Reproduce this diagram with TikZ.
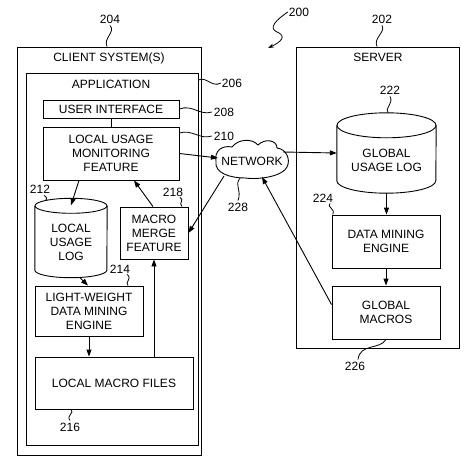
\documentclass[tikz,border=0pt]{standalone}
\usepackage{fontspec}
\setmainfont{Liberation Sans}
\usetikzlibrary{arrows.meta,calc}
\begin{document}
\begin{tikzpicture}[x=1pt,y=-1pt,
  every node/.style={font=\fontsize{12}{14}\selectfont},
  box/.style={draw,line width=0.9pt,inner sep=0pt,align=center},
  plain/.style={inner sep=0pt,align=center},
  lbl/.style={inner sep=0pt},
  conn/.style={line width=0.9pt,-{Triangle[length=7pt,width=5pt]}},
  lead/.style={line width=0.8pt},
  cylline/.style={line width=0.9pt}]
\useasboundingbox (0,0) rectangle (474,471);
% containers
\node[box,minimum width=184pt,minimum height=408pt] (client) at (109,251) {};
\node[box,minimum width=172pt,minimum height=372pt] (app) at (112,259) {};
\node[plain] (clienttxt) at (109,58) {CLIENT SYSTEM(S)};
\node[plain] (apptxt) at (111,84) {APPLICATION};
\node[box,minimum width=163pt,minimum height=301pt] (server) at (377.5,197.5) {};
\node[plain] (servertxt) at (378,57) {SERVER};
% client boxes
\node[box,minimum width=136pt,minimum height=18pt] (ui) at (111,109) {USER INTERFACE};
\node[box,minimum width=136pt,minimum height=53pt] (lumf) at (111,153.5) {LOCAL USAGE\\MONITORING\\FEATURE};
\node[plain,minimum width=72pt,minimum height=79pt] (lul) at (71,238) {};
\node[plain] (lultxt) at (71,242) {LOCAL\\USAGE\\LOG};
\node[box,minimum width=68pt,minimum height=52pt] (mmf) at (154,233) {MACRO\\MERGE\\FEATURE};
\node[box,minimum width=108pt,minimum height=50pt] (lw) at (89,311) {LIGHT-WEIGHT\\DATA MINING\\ENGINE};
\node[box,minimum width=158pt,minimum height=52pt] (lmf) at (114,383) {LOCAL MACRO FILES};
% server boxes
\node[plain,minimum width=99pt,minimum height=80pt] (gul) at (386.5,153) {};
\node[plain] (gultxt) at (386.5,160) {GLOBAL\\USAGE LOG};
\node[box,minimum width=108pt,minimum height=53pt] (dme) at (386,241.5) {DATA MINING\\ENGINE};
\node[box,minimum width=108pt,minimum height=53pt] (gm) at (386,312.5) {GLOBAL\\MACROS};
% network
\node[plain] (net) at (252,161) {NETWORK};
\draw[line width=0.9pt] (216,161) .. controls (214,151) and (222,145) .. (232,147)
  .. controls (238,139) and (252,138) .. (258,145)
  .. controls (265,138) and (277,140) .. (277,148)
  .. controls (286,149) and (291,159) .. (287,167)
  .. controls (283,176) and (260,180) .. (245,178)
  .. controls (230,178) and (214,173) .. (216,161);
% cylinders
\draw[cylline] ([yshift=-7.5pt]lul.north) ellipse [x radius=36pt, y radius=7.5pt];
\draw[cylline] ([yshift=-7.5pt]lul.north west) -- ([yshift=7.5pt]lul.south west)
  arc[start angle=180,end angle=360,x radius=36pt,y radius=7.5pt] -- ([yshift=-7.5pt]lul.north east);
\draw[cylline] ([yshift=-12.5pt]gul.north) ellipse [x radius=49.5pt, y radius=12.5pt];
\draw[cylline] ([yshift=-12.5pt]gul.north west) -- ([yshift=12.5pt]gul.south west)
  arc[start angle=180,end angle=360,x radius=49.5pt,y radius=12.5pt] -- ([yshift=-12.5pt]gul.north east);
% connectors
\draw[line width=0.9pt] (ui.south) -- (lumf.north);
\draw[conn] ([xshift=-32pt]lumf.south) -- ([yshift=-7pt]lul.north);
\draw[conn] ([xshift=-1pt]mmf.north) -- ([xshift=23pt]lumf.south);
\draw[conn] ([xshift=9pt]lul.south) -- ([xshift=-1pt]lw.north);
\draw[conn] (lw.south) -- (lw.south |- lmf.north);
\draw[conn] (mmf.south |- lmf.north) -- (mmf.south);
\draw[conn] ([shift={(-28pt,-15pt)}]net.center) -- (mmf.east);
\draw[conn] (lumf.east) -- ([shift={(-34pt,3pt)}]net.center);
\draw[conn] ([shift={(31pt,9pt)}]net.center) -- (gul.west);
\draw[conn] ([yshift=-19pt]gm.north west) -- ([shift={(10pt,-16pt)}]net.center);
\draw[conn] (gul.south) -- (gul.south |- dme.north);
\draw[conn] (dme.south) -- (gm.north);
% reference labels
\node[lbl] (l200) at (299,12) {200};
\node[lbl] (l204) at (110,19) {204};
\node[lbl] (l202) at (382,19) {202};
\node[lbl] (l206) at (232,83) {206};
\node[lbl] (l208) at (224,112) {208};
\node[lbl] (l210) at (224,136) {210};
\node[lbl] (l212) at (40,189) {212};
\node[lbl] (l218) at (173,192) {218};
\node[lbl] (l214) at (120,269) {214};
\node[lbl] (l216) at (70,427) {216};
\node[lbl] (l222) at (390,90) {222};
\node[lbl] (l228) at (238,207) {228};
\node[lbl] (l224) at (323,198) {224};
\node[lbl] (l226) at (355,366) {226};
% leaders
\draw[lead,-{Stealth[length=6pt,width=4pt]}] ([xshift=-1pt]l200.west) .. controls (276,20) and (268,28) .. (277,32) .. controls (287,36) and (281,42) .. (268,48);
\draw[lead] ([yshift=-2pt]l204.south) .. controls (116,32) and (103,38) .. (client.north -| 107,0);
\draw[lead] ([yshift=-2pt]l202.south) .. controls (386,32) and (373,38) .. (server.north -| 377,0);
\draw[lead] (app.east |- 0,80) .. controls (206,76) and (212,88) .. ([xshift=-1pt]l206.west);
\draw[lead] (ui.east) .. controls (192,104) and (200,116) .. ([xshift=-2pt]l208.west);
\draw[lead] (lumf.east |- 0,133) .. controls (192,129) and (200,140) .. ([xshift=-2pt]l210.west);
\draw[lead] ([shift={(4pt,-2pt)}]l212.south) .. controls (50,199) and (43,201) .. (47,200);
\draw[lead] ([shift={(7pt,-1pt)}]l218.south) .. controls (185,200) and (178,203) .. (mmf.north east -| 182,0);
\draw[lead] ([shift={(7pt,-1pt)}]l214.south) .. controls (133,279) and (124,282) .. (lw.north -| 128,0);
\draw[lead] (lmf.south -| 71,0) .. controls (75,413) and (66,415) .. ([yshift=2pt]l216.north);
\draw[lead] ([yshift=-2pt]l222.south) .. controls (394,104) and (384,108) .. (gul.north -| 388,0);
\draw[lead] (240,178) .. controls (234,186) and (242,190) .. ([yshift=2pt]l228.north);
\draw[lead] ([shift={(7pt,-1pt)}]l224.south) .. controls (326,207) and (336,209) .. (dme.north west -| 333,0);
\draw[lead] (gm.south) .. controls (380,350) and (360,343) .. ([shift={(3pt,2pt)}]l226.north);
\end{tikzpicture}
\end{document}
